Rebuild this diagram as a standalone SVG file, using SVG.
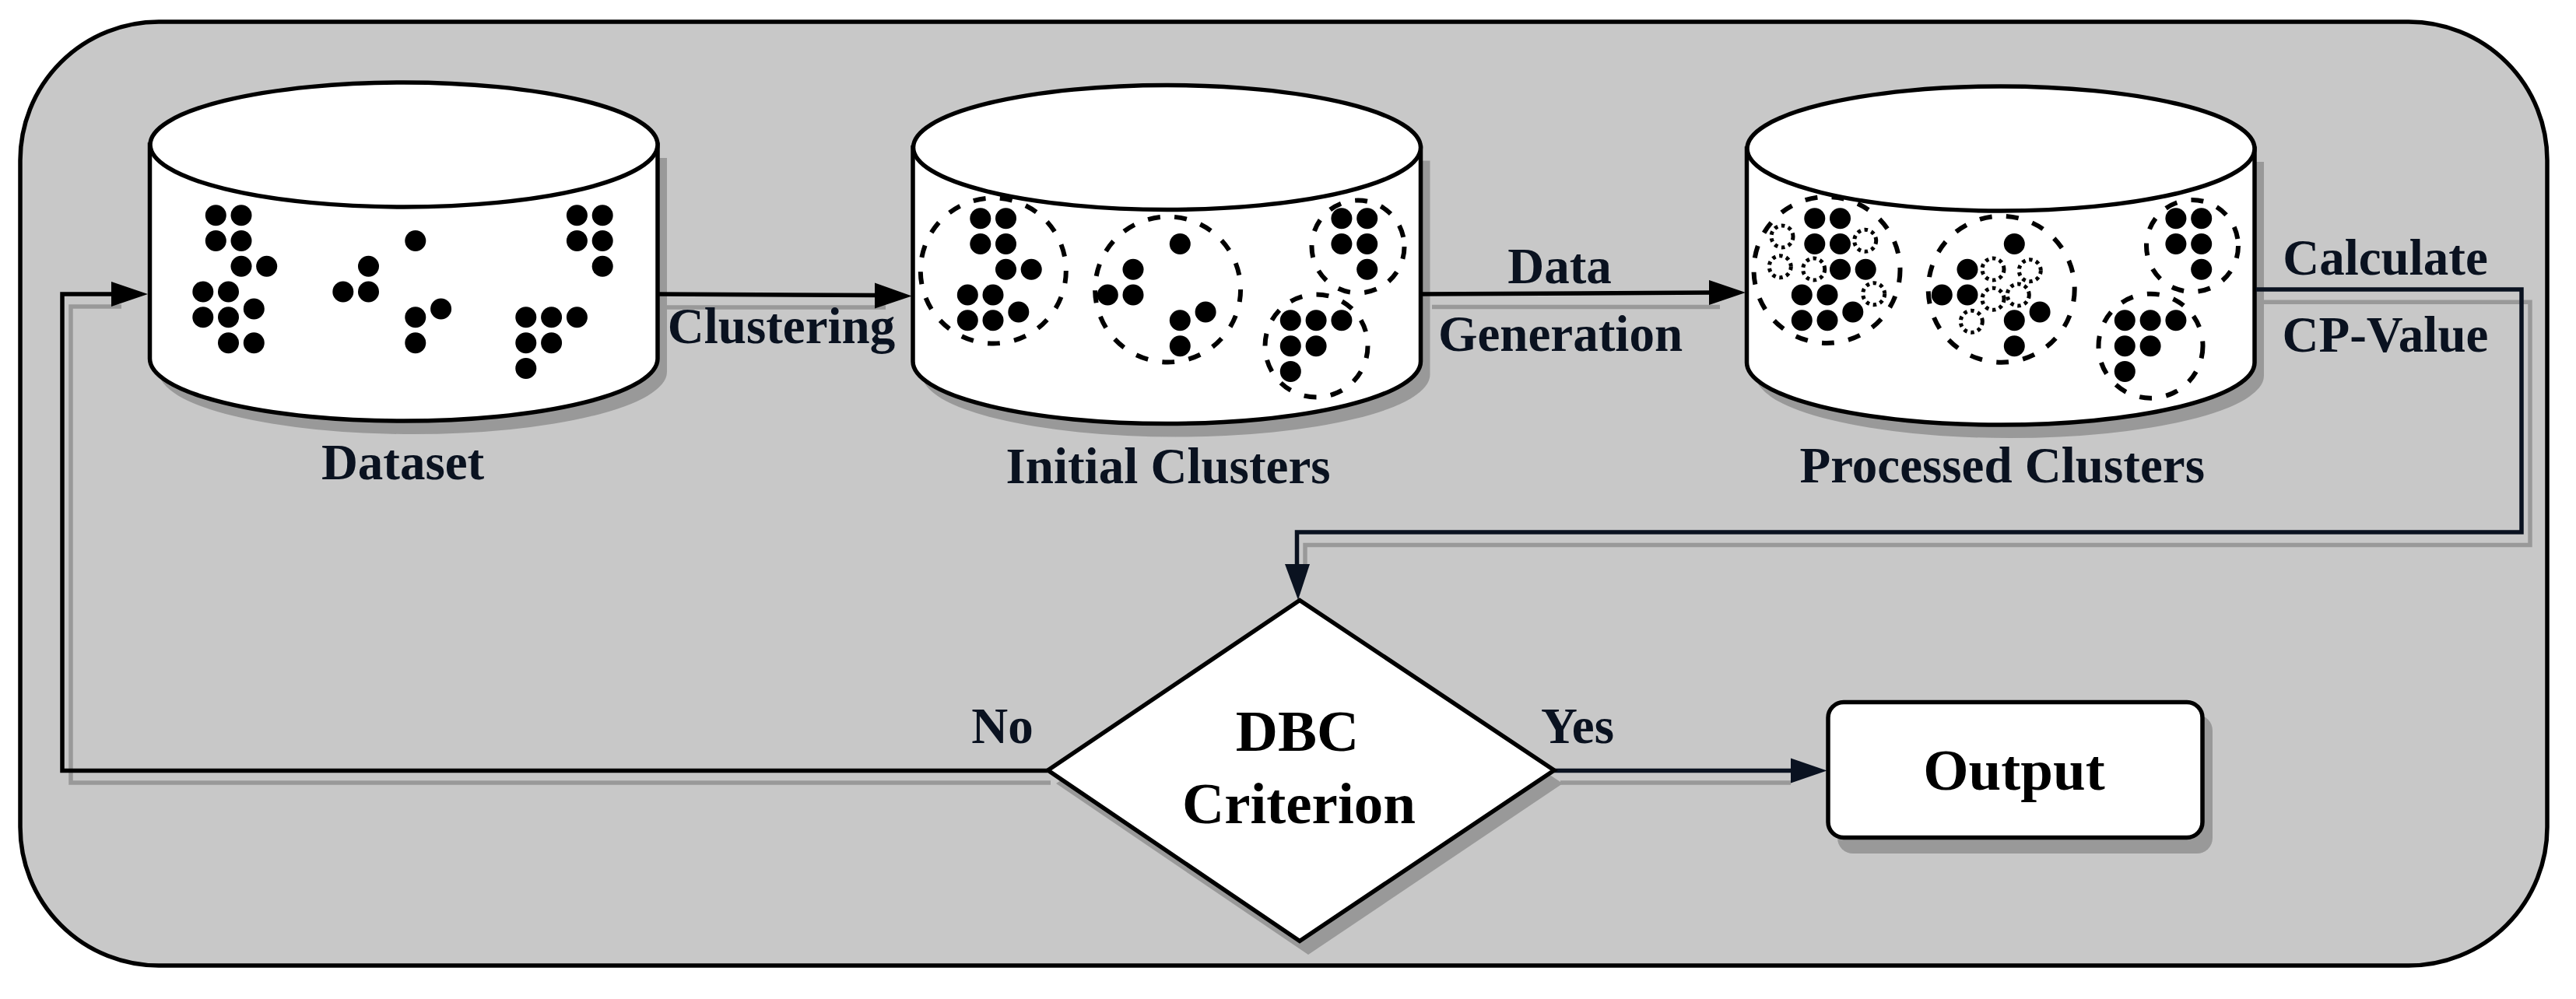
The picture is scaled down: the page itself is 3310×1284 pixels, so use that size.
<svg xmlns="http://www.w3.org/2000/svg" xmlns:xlink="http://www.w3.org/1999/xlink" width="3310" height="1284" viewBox="0 0 3310 1284">
<style>
text{font-family:"Liberation Serif","Times New Roman",serif;font-weight:bold;text-anchor:middle;font-size:65px;fill:#0a1220}
.k{font-size:75px;fill:#000}
.ln{fill:none;stroke:#000;stroke-width:5.500;stroke-linejoin:miter}
.nv{stroke:#0a1220}
.sh{fill:none;stroke:#999;stroke-width:5.500}
.s{fill:#999;stroke:none}
.w{fill:#fff;stroke:#000;stroke-width:5.500}
.dash{fill:none;stroke:#000;stroke-width:6;stroke-dasharray:16 18.500}
.dot{fill:none;stroke:#000;stroke-width:5;stroke-dasharray:4.500 4.700}
</style>
<defs>
<path id="cylBody" d="M192.500 186V461A326 80 0 0 0 845 461V186Z"/>
<g id="dots"><circle cx="277.300" cy="276.800" r="13.500"/><circle cx="310" cy="276.800" r="13.500"/><circle cx="277.300" cy="309.500" r="13.500"/><circle cx="310" cy="309.500" r="13.500"/><circle cx="310" cy="342.300" r="13.500"/><circle cx="342.700" cy="342.300" r="13.500"/><circle cx="260.800" cy="375" r="13.500"/><circle cx="293.500" cy="375" r="13.500"/><circle cx="260.800" cy="407.800" r="13.500"/><circle cx="293.500" cy="407.800" r="13.500"/><circle cx="326.300" cy="397" r="13.500"/><circle cx="533.800" cy="309.500" r="13.500"/><circle cx="473.500" cy="342.300" r="13.500"/><circle cx="440.800" cy="375" r="13.500"/><circle cx="473.500" cy="375" r="13.500"/><circle cx="566.600" cy="397" r="13.500"/><circle cx="533.800" cy="407.800" r="13.500"/><circle cx="533.800" cy="440.700" r="13.500"/><circle cx="741.400" cy="276.800" r="13.500"/><circle cx="774.200" cy="276.800" r="13.500"/><circle cx="741.400" cy="309.500" r="13.500"/><circle cx="774.200" cy="309.500" r="13.500"/><circle cx="774.200" cy="342.300" r="13.500"/><circle cx="675.800" cy="407.800" r="13.500"/><circle cx="708.600" cy="407.800" r="13.500"/><circle cx="741.400" cy="407.800" r="13.500"/><circle cx="675.800" cy="440.700" r="13.500"/><circle cx="708.600" cy="440.700" r="13.500"/><circle cx="675.800" cy="473.400" r="13.500"/></g>
<ellipse id="lid" cx="519" cy="186" rx="326" ry="80"/>
</defs>
<rect id="frame" x="26" y="28" width="3247" height="1213" rx="178" ry="178" fill="#c8c8c8" stroke="#000" stroke-width="5.500"/>
<g id="connector-shadows">
<path class="sh" d="M1350 1006H91V394H156"/>
<path class="sh" d="M856 395H1138"/>
<path class="sh" d="M1840 394.500H2210"/>
<path class="sh" d="M2909 388.300H3251V700.500H1677V725"/>
<path class="sh" d="M2005 1006H2301"/>
</g>
<g id="cyl-dataset">
<use href="#cylBody" class="s" transform="translate(12,17)"/>
<use href="#cylBody" class="w"/>
<use href="#dots"/>
<circle cx="293.500" cy="440.700" r="13.500"/><circle cx="326.300" cy="440.700" r="13.500"/>
<use href="#lid" class="w"/>
</g>
<g id="cyl-initial">
<use href="#cylBody" class="s" transform="translate(992.500,20.500)"/>
<use href="#cylBody" class="w" transform="translate(980.500,3.500)"/>
<use href="#dots" transform="translate(982.500,4)"/>
<circle class="dash" cx="1276.300" cy="348" r="93.500"/>
<circle class="dash" cx="1500.600" cy="372" r="93.500"/>
<circle class="dash" cx="1745" cy="317" r="59.500"/>
<circle class="dash" cx="1691.500" cy="444.500" r="66"/>
<use href="#lid" class="w" transform="translate(980.500,3.500)"/>
</g>
<g id="cyl-processed">
<use href="#cylBody" class="s" transform="translate(2064,22)"/>
<use href="#cylBody" class="w" transform="translate(2052,5)"/>
<use href="#dots" transform="translate(2054.500,4)"/>
<circle class="dash" cx="2347.500" cy="347" r="94"/>
<circle class="dash" cx="2571.700" cy="371.700" r="94"/>
<circle class="dash" cx="2817" cy="316" r="59"/>
<circle class="dash" cx="2763.500" cy="444.700" r="67"/>
<circle class="dot" cx="2290" cy="304" r="14"/>
<circle class="dot" cx="2396.700" cy="309.300" r="14"/>
<circle class="dot" cx="2287.300" cy="342.700" r="14"/>
<circle class="dot" cx="2330.700" cy="346" r="14"/>
<circle class="dot" cx="2407.700" cy="377.700" r="14"/>
<circle class="dot" cx="2561" cy="346" r="14"/>
<circle class="dot" cx="2608.300" cy="347.700" r="14"/>
<circle class="dot" cx="2561" cy="384.300" r="14"/>
<circle class="dot" cx="2593.300" cy="379" r="14"/>
<circle class="dot" cx="2533.300" cy="413.300" r="14"/>
<use href="#lid" class="w" transform="translate(2052,5)"/>
</g>
<g id="connectors">
<path class="ln" d="M845 378L1130 379.500"/>
<path fill="#000" d="M1171.700 380.500L1124 363.500V396.500Z"/>
<path class="ln" d="M1826 378L2200 376"/>
<path fill="#000" d="M2243 376L2196 360V392Z"/>
<path class="ln nv" d="M2899 372H3240V684H1666.500V730"/>
<path fill="#0a1220" d="M1668 771L1651 725H1683Z"/>
<path class="ln" d="M1346 990.500H80V378H145"/>
<path fill="#000" d="M190 378L143 362V394Z"/>
<path class="ln nv" d="M1997 990.500H2305"/>
<path fill="#0a1220" d="M2347.500 990.500L2301 974.500V1006.500Z"/>
</g>
<g id="decision">
<path class="s" d="M1681 789L2008 1007L1681 1227L1357 1007Z"/>
<path class="w" d="M1670 771.500L1997 990L1670 1209.500L1346.500 990Z"/>
<text class="k" x="1667" y="965">DBC</text>
<text class="k" x="1669" y="1058">Criterion</text>
</g>
<g id="output">
<rect class="s" x="2361" y="919" width="482" height="178" rx="20"/>
<rect class="w" x="2349" y="902.500" width="481" height="174" rx="20"/>
<text class="k" x="2588" y="1015">Output</text>
</g>
<g id="labels">
<text x="517.600" y="615.700">Dataset</text>
<text x="1501" y="621">Initial Clusters</text>
<text x="2572.700" y="620">Processed Clusters</text>
<text x="1004" y="440.500">Clustering</text>
<text x="2004" y="364">Data</text>
<text x="2005" y="451">Generation</text>
<text x="3065" y="353.300">Calculate</text>
<text x="3065" y="451.500">CP-Value</text>
<text x="1288" y="954.600">No</text>
<text x="2027" y="954.600">Yes</text>
</g>
</svg>
